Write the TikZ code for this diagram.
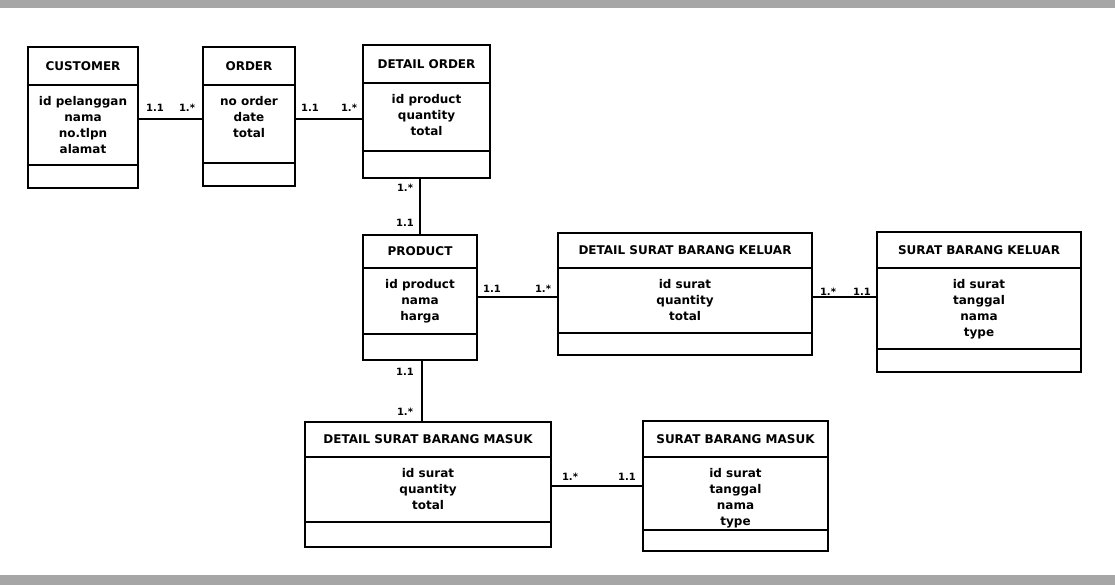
\documentclass[tikz,border=0pt]{standalone}
\usepackage{fontspec}
\setmainfont{DejaVu Sans}
\begin{document}
\begin{tikzpicture}[x=1pt,y=-1pt,
  box/.style={draw,line width=1.8pt,anchor=north west,inner sep=0pt,outer sep=0pt},
  ttl/.style={font=\fontsize{12}{14}\bfseries\selectfont},
  att/.style={font=\fontsize{12}{16}\bfseries\selectfont,align=center,anchor=north},
  mul/.style={font=\fontsize{10}{12}\bfseries\selectfont},
  con/.style={line width=1.8pt}]
\fill[white] (0,0) rectangle (1115,585);
\fill[gray!70] (0,0) rectangle (1115,8);
\fill[gray!70] (0,575) rectangle (1115,585);
\newcommand{\umlbox}[9]{%
  \node[box,minimum width={#4-#2},minimum height={#5-#3}] (#1) at (#2,#3) {};
  \draw[line width=1.8pt] (#2,#6) -- (#4,#6);
  \draw[line width=1.8pt] (#2,#7) -- (#4,#7);
  \node[ttl] (#1t) at ({(#2+#4)/2},{(#3+#6)/2}) {#8};
  \node[att] (#1a) at ({(#2+#4)/2},{#6+8}) {#9};
}
\umlbox{cust}{28}{47}{138}{188}{85}{165}{CUSTOMER}{id pelanggan\\nama\\no.tlpn\\alamat}
\umlbox{ord}{203}{47}{295}{186}{85}{163}{ORDER}{no order\\date\\total}
\umlbox{dord}{363}{45}{490}{178}{83}{151}{DETAIL ORDER}{id product\\quantity\\total}
\umlbox{prod}{363}{235}{477}{360}{268}{334}{PRODUCT}{id product\\nama\\harga}
\umlbox{dsbk}{558}{233}{812}{355}{268}{333}{DETAIL SURAT BARANG KELUAR}{id surat\\quantity\\total}
\umlbox{sbk}{877}{232}{1081}{372}{268}{349}{SURAT BARANG KELUAR}{id surat\\tanggal\\nama\\type}
\umlbox{dsbm}{305}{422}{551}{547}{457}{522}{DETAIL SURAT BARANG MASUK}{id surat\\quantity\\total}
\umlbox{sbm}{643}{421}{828}{551}{457}{530}{SURAT BARANG MASUK}{id surat\\tanggal\\nama\\type}
\draw[con] (cust.east |- 0,119) -- (ord.west |- 0,119);
\draw[con] (ord.east |- 0,119) -- (dord.west |- 0,119);
\draw[con] (dord.south -| 420,0) -- (prod.north -| 420,0);
\draw[con] (prod.east |- 0,297) -- (dsbk.west |- 0,297);
\draw[con] (dsbk.east |- 0,297) -- (sbk.west |- 0,297);
\draw[con] (prod.south -| 422,0) -- (dsbm.north -| 422,0);
\draw[con] (dsbm.east |- 0,486) -- (sbm.west |- 0,486);
\node[mul] (m1) at (155,108) {1.1};
\node[mul] (m2) at (187,108) {1.*};
\node[mul] (m3) at (310,108) {1.1};
\node[mul] (m4) at (349,108) {1.*};
\node[mul] (m5) at (405,188) {1.*};
\node[mul] (m6) at (405,223) {1.1};
\node[mul] (m7) at (492,289) {1.1};
\node[mul] (m8) at (543,289) {1.*};
\node[mul] (m9) at (828,292) {1.*};
\node[mul] (m10) at (862,292) {1.1};
\node[mul] (m11) at (405,372) {1.1};
\node[mul] (m12) at (405,412) {1.*};
\node[mul] (m13) at (570,477) {1.*};
\node[mul] (m14) at (627,477) {1.1};
\end{tikzpicture}
\end{document}
